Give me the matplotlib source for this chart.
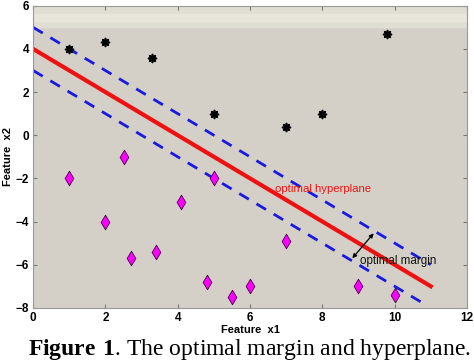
import numpy as np
import matplotlib.pyplot as plt

plt.rcParams['mathtext.fontset'] = 'custom'
plt.rcParams['mathtext.rm'] = 'Liberation Serif'
plt.rcParams['mathtext.bf'] = 'Liberation Serif:bold'

# class 1 (black stars)
pos_x = [1, 2, 3.3, 5, 7, 8, 9.8]
pos_y = [4, 4.3, 3.6, 1, 0.4, 1, 4.7]
# class 2 (magenta diamonds)
neg_x = [1, 2, 2.5, 2.7, 3.4, 4.1, 5, 4.8, 5.5, 6, 7, 9, 10]
neg_y = [-2, -4, -1, -5.7, -5.4, -3.1, -2, -6.8, -7.5, -7, -4.9, -7, -7.4]

# hyperplane and margins: y = b - x
line_x = [0, 11]
b_mid = 4
b_up = 5
b_low = 3
low_x = [0, 10.8]

fig = plt.figure(figsize=(4.74, 3.63), dpi=100)
ax = fig.add_axes([0.07, 0.152, 0.915, 0.832])
ax.set_facecolor('#d4d0c8')

# light band at the top of the plot area
ax.axhspan(5.0, 6.0, color='#e0ddd2', zorder=0)
ax.axhspan(5.3, 5.6, color='#e8e6db', zorder=0)

ax.plot(line_x, [b_mid - v for v in line_x], color='#ee1111', lw=3, zorder=2)
ax.plot(line_x, [b_up - v for v in line_x], color='#1a1adf', lw=2,
        dashes=(4, 3.2), zorder=2)
ax.plot(low_x, [b_low - v for v in low_x], color='#1a1adf', lw=2,
        dashes=(4, 3.2), zorder=2)

ax.scatter(pos_x, pos_y, marker=(8, 2, 0), s=32, color='black', lw=1.2, zorder=3)
ax.scatter(pos_x, pos_y, marker='o', s=12, color='black', zorder=3)
ax.scatter(neg_x, neg_y, marker='d', s=55, color='#ff00ff',
           edgecolors='#440044', lw=0.6, zorder=3)

ax.annotate('', xy=(8.78, -5.8), xytext=(9.47, -4.45),
            arrowprops=dict(arrowstyle='<|-|>', color='black', lw=0.9,
                            mutation_scale=6))
ax.text(6.7, -2.5, 'optimal hyperplane', color='#ee1111', fontsize=8.2,
        family='Liberation Sans', va='center')
ax.text(9.05, -5.85, 'optimal margin', color='#111111', fontsize=8.4,
        family='Liberation Sans', va='center')

ax.set_xlim(0, 12)
ax.set_ylim(-8, 6)
ax.set_xticks(range(0, 13, 2))
ax.set_yticks(range(-8, 7, 2))
ax.tick_params(direction='in', length=3, color='#777777', top=True, right=True,
               labelsize=8.5, pad=3)
for lab in ax.get_xticklabels() + ax.get_yticklabels():
    lab.set_fontweight('bold')
    lab.set_family('Liberation Sans')
for s in ax.spines.values():
    s.set_color('#999999')
    s.set_linewidth(0.8)

ax.set_xlabel('Feature  x1', fontsize=8, fontweight='bold',
              family='Liberation Sans', labelpad=1)
ax.set_ylabel('Feature  x2', fontsize=8, fontweight='bold',
              family='Liberation Sans', labelpad=2)

fig.text(0.527, 0.003, r'$\mathbf{Figure\ 1}$. The optimal margin and hyperplane.',
         ha='center', va='bottom', fontsize=17, family='Liberation Serif')

plt.savefig('out.png', dpi=100)
